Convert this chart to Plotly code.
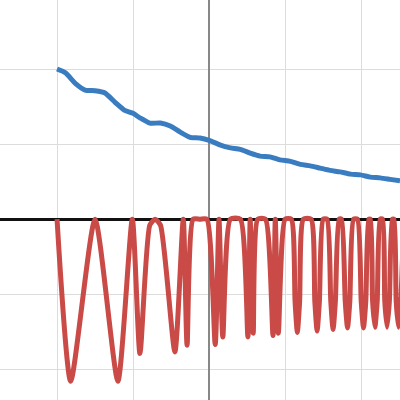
import plotly.graph_objects as go

blue_x = [-2.0,-1.89,-1.76,-1.63,-1.5,-1.37,-1.24,-1.11,-1.0,-0.91,-0.78,-0.64,-0.51,-0.38,-0.25,-0.12,0,0.14,0.28,0.41,0.54,0.67,0.8,0.93,1.07,1.2,1.33,1.46,1.59,1.72,1.86,1.99,2.12,2.25,2.38,2.51]
blue_y = [2.0,1.95,1.81,1.72,1.71,1.68,1.56,1.45,1.41,1.35,1.28,1.28,1.24,1.16,1.09,1.08,1.05,0.99,0.95,0.93,0.88,0.84,0.83,0.79,0.77,0.73,0.71,0.68,0.65,0.63,0.6,0.59,0.56,0.55,0.53,0.51]

red_x = [-2.0,-1.82,-1.5,-1.2,-1.01,-0.91,-0.78,-0.71,-0.64,-0.45,-0.34,-0.29,-0.21,-0.12,-0.03,0.08,0.13,0.18,0.28,0.41,0.51,0.54,0.58,0.64,0.74,0.84,0.87,0.91,1.0,
         1.08,1.13,1.16,1.19,1.24,
         1.34,1.39,1.42,1.45,1.5,
         1.55,1.6,1.63,1.66,1.71,
         1.74,1.79,1.82,1.85,1.9,
         1.95,2.0,2.03,2.06,2.1,
         2.12,2.15,2.18,2.21,2.25,
         2.28,2.31,2.34,2.37,2.41,
         2.43,2.46,2.49,2.52,2.56]
red_y = [0,-2.16,0,-2.16,0,-1.79,-0.08,0,-0.08,-1.77,0,-1.68,0,0,0,-1.67,0,-1.57,0,0,-1.57,0,-1.52,0,0,-1.55,0,-1.52,0,
         0,-1.1,-1.51,-1.1,0,
         0,-1.1,-1.49,-1.1,0,
         0,-1.1,-1.47,-1.1,0,
         0,-1.1,-1.45,-1.1,0,
         0,-1.1,-1.45,-1.1,0,
         0,-1.1,-1.44,-1.1,0,
         0,-1.1,-1.44,-1.1,0,
         0,-1.1,-1.44,-1.1,0]

fig = go.Figure()
fig.add_trace(go.Scatter(x=blue_x, y=blue_y, mode="lines", line=dict(color="#3a7cc0", width=5, shape="spline", smoothing=0.6)))
fig.add_trace(go.Scatter(x=red_x, y=red_y, mode="lines", line=dict(color="#c94a46", width=5, shape="spline", smoothing=0.6)))
ax = dict(showticklabels=False, showgrid=True, gridcolor="#dcdcdc", gridwidth=1, dtick=1, tick0=0, zeroline=True, fixedrange=True)
fig.update_xaxes(range=[-2.75, 2.51], zerolinecolor="#888888", zerolinewidth=1.5, **ax)
fig.update_yaxes(range=[-2.41, 2.92], zerolinecolor="#111111", zerolinewidth=3, **ax)
fig.update_layout(width=400, height=400, margin=dict(l=0, r=0, t=0, b=0), showlegend=False, plot_bgcolor="white", paper_bgcolor="white")
fig.write_html("out.html", config={"displayModeBar": False}, post_script="document.body.style.margin='0';")
